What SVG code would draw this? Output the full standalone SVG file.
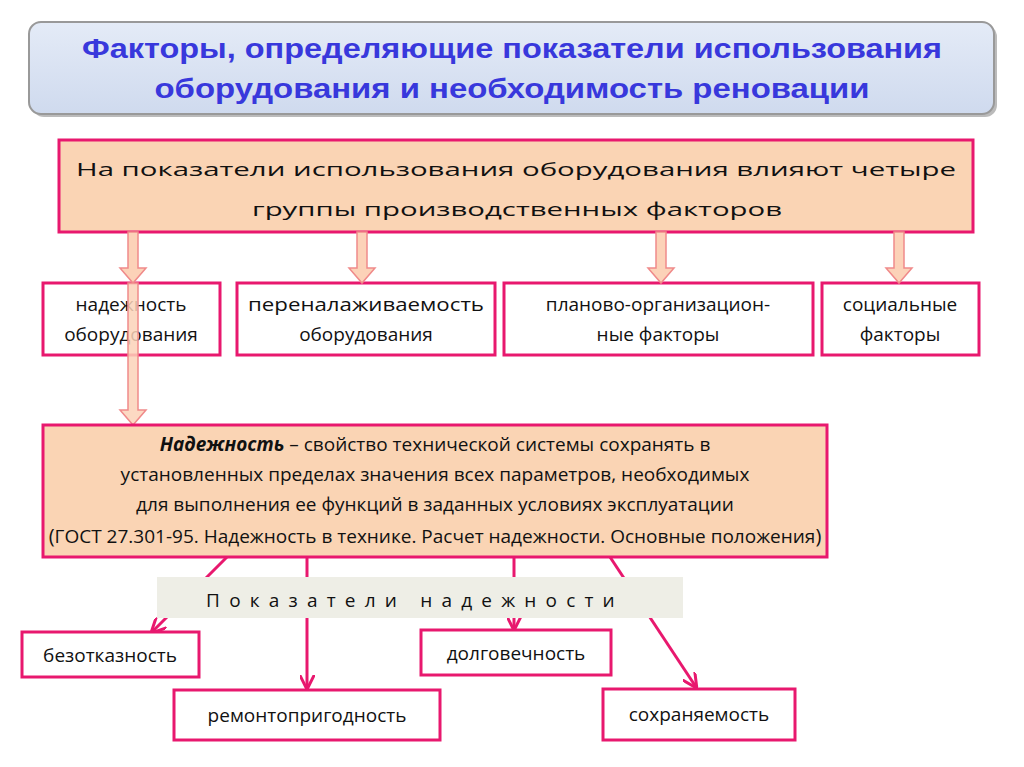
<svg xmlns="http://www.w3.org/2000/svg" width="1024" height="767" viewBox="0 0 1024 767">
<style>
.b{fill:#fff;stroke:#e8186e;stroke-width:3}
.t{font-family:"Open Sans","Liberation Sans",sans-serif;font-size:19px;fill:#111;text-anchor:middle}
.ha{fill:#fcd2b8;stroke:#f08a8a;stroke-width:1.5}
.c{stroke:#e8186e;stroke-width:3;fill:none;marker-end:url(#m)}
</style>
<defs>
<linearGradient id="g" x1="0" y1="0" x2="0" y2="1"><stop offset="0" stop-color="#e4ebf7"/><stop offset="1" stop-color="#cfdaee"/></linearGradient>
<marker id="m" viewBox="0 0 10 10" refX="9" refY="5" markerWidth="5" markerHeight="5" orient="auto"><path d="M0,0 L10,5 L0,10" fill="none" stroke="#e8186e" stroke-width="2"/></marker>
</defs>
<rect width="1024" height="767" fill="#fff"/>
<g id="title">
<rect x="32" y="25" width="965" height="92" rx="12" fill="#bbb"/>
<rect x="29" y="22" width="965" height="92" rx="12" fill="url(#g)" stroke="#999" stroke-width="2"/>
<text x="512" y="58" font-family="Liberation Sans Narrow, Liberation Sans, sans-serif" font-weight="bold" font-size="27" fill="#3838dc" text-anchor="middle" textLength="860" lengthAdjust="spacingAndGlyphs">Факторы, определяющие показатели использования</text>
<text x="512" y="98" font-family="Liberation Sans Narrow, Liberation Sans, sans-serif" font-weight="bold" font-size="27" fill="#3838dc" text-anchor="middle" textLength="715" lengthAdjust="spacingAndGlyphs">оборудования и необходимость реновации</text>
</g>
<g id="main">
<rect x="59" y="140" width="914" height="92" fill="#fad4b4" stroke="#e8186e" stroke-width="3"/>
<text class="t" x="516" y="176" font-size="25" textLength="880" lengthAdjust="spacingAndGlyphs">На показатели использования оборудования влияют четыре</text>
<text class="t" x="517" y="216" font-size="25" textLength="530" lengthAdjust="spacingAndGlyphs">группы производственных факторов</text>
</g>
<g id="n1"><rect class="b" x="43" y="283" width="177" height="72"/><text class="t" x="131" y="311">надежность</text><text class="t" x="131" y="341">оборудования</text></g>
<g id="n2"><rect class="b" x="237" y="283" width="258" height="72"/><text class="t" x="366" y="311" textLength="236" lengthAdjust="spacingAndGlyphs">переналаживаемость</text><text class="t" x="366" y="341">оборудования</text></g>
<g id="n3"><rect class="b" x="504" y="283" width="309" height="72"/><text class="t" x="658" y="311">планово-организацион-</text><text class="t" x="658" y="341">ные факторы</text></g>
<g id="n4"><rect class="b" x="822" y="283" width="157" height="72"/><text class="t" x="900" y="311">социальные</text><text class="t" x="900" y="341">факторы</text></g>
<g id="hollow">
<path class="ha" d="M357,232 h10 v36 h8 l-13,15 l-13,-15 h8z"/>
<path class="ha" d="M656,232 h10 v36 h8 l-13,15 l-13,-15 h8z"/>
<path class="ha" d="M894,232 h10 v36 h8 l-13,15 l-13,-15 h8z"/>
<path class="ha" d="M128,232 h10 v36 h8 l-13,15 l-13,-15 h8z"/>
<path class="ha" d="M128,283 h10 v127 h8 l-13,15 l-13,-15 h8z" fill-opacity="0.85"/>
</g>
<g id="def">
<rect x="43" y="425" width="784" height="132" fill="#fad4b4" stroke="#e8186e" stroke-width="3"/>
<text class="t" x="435" y="451"><tspan font-weight="bold" font-style="italic">Надежность</tspan> – свойство технической системы сохранять в</text>
<text class="t" x="435" y="481">установленных пределах значения всех параметров, необходимых</text>
<text class="t" x="435" y="511">для выполнения ее функций в заданных условиях эксплуатации</text>
<text class="t" x="435" y="543" font-size="14.5"><tspan font-size="20">(</tspan>ГОСТ 27.301-95. Надежность в технике. Расчет надежности. Основные положения<tspan font-size="20">)</tspan></text>
</g>
<g id="connectors">
<line class="c" x1="227" y1="557" x2="152" y2="632"/>
<line class="c" x1="307" y1="557" x2="307" y2="688"/>
<line class="c" x1="514" y1="557" x2="514" y2="629"/>
<line class="c" x1="610" y1="557" x2="696" y2="687"/>
</g>
<g id="band">
<rect x="157" y="577" width="526" height="41" fill="#eeeee6"/>
<text class="t" x="415" y="607" font-size="20" letter-spacing="9.2">Показатели надежности</text>
</g>
<g id="b1"><rect class="b" x="22" y="632" width="177" height="45"/><text class="t" x="110" y="662">безотказность</text></g>
<g id="b2"><rect class="b" x="421" y="630" width="190" height="45"/><text class="t" x="516" y="660">долговечность</text></g>
<g id="b3"><rect class="b" x="174" y="690" width="266" height="50"/><text class="t" x="307" y="722">ремонтопригодность</text></g>
<g id="b4"><rect class="b" x="603" y="689" width="192" height="51"/><text class="t" x="699" y="721">сохраняемость</text></g>
</svg>
